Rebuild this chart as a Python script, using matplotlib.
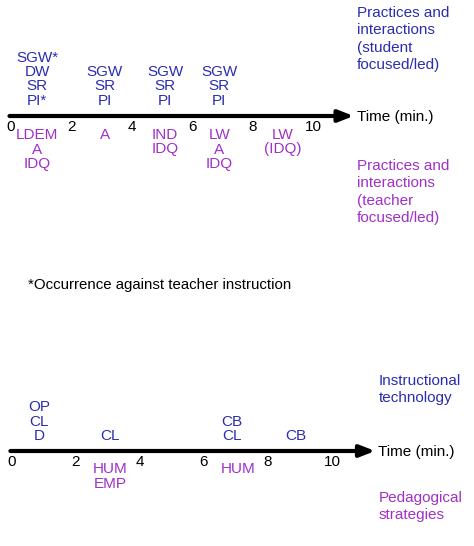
import matplotlib
matplotlib.use("Agg")
import matplotlib.pyplot as plt

plt.rcParams['font.family'] = ['Liberation Sans', 'DejaVu Sans']
BLUE = '#2a2db0'
PURP = '#a030c8'

ticks = [0, 2, 4, 6, 8, 10]
top_student_x = [0.87, 3.1, 5.1, 6.9]
top_student = [["SGW*", "DW", "SR", "PI*"], ["SGW", "SR", "PI"], ["SGW", "SR", "PI"], ["SGW", "SR", "PI"]]
top_teacher_x = [0.87, 3.1, 5.1, 6.9, 9.0]
top_teacher = [["LDEM", "A", "IDQ"], ["A"], ["IND", "IDQ"], ["LW", "A", "IDQ"], ["LW", "(IDQ)"]]
bot_tech_x = [0.85, 3.06, 6.87, 8.87]
bot_tech = [["OP", "CL", "D"], ["CL"], ["CB", "CL"], ["CB"]]
bot_ped_x = [3.06, 7.06]
bot_ped = [["HUM", "EMP"], ["HUM"]]

W, H = 474, 546
fig = plt.figure(figsize=(W/100, H/100), dpi=100)

def make_ax(x0px, ppm):
    ax = fig.add_axes([0, 0, 1, 1], facecolor='none')
    ax.set_xlim(-x0px/ppm, (W - x0px)/ppm)
    ax.set_ylim(H, 0)
    ax.axis('off')
    return ax

fs = 11
# top timeline
ax1 = make_ax(11, 30.2)
ax1.annotate('', xy=(11.35, 116), xytext=(-0.05, 116),
             arrowprops=dict(arrowstyle='-|>,head_length=0.9,head_width=0.35', lw=3, color='black', shrinkA=0, shrinkB=0))
for t in ticks:
    ax1.text(t, 127, str(t), ha='center', va='center', fontsize=fs)
ax1.text(11.45, 117, "Time (min.)", ha='left', va='center', fontsize=fs)
for x, lab in zip(top_student_x, top_student):
    n = len(lab)
    for i, s in enumerate(lab):
        ax1.text(x, 101 - 14.5*(n-1-i), s, ha='center', va='center', fontsize=fs, color=BLUE)
for x, lab in zip(top_teacher_x, top_teacher):
    for i, s in enumerate(lab):
        ax1.text(x, 135 + 14.5*i, s, ha='center', va='center', fontsize=fs, color=PURP)

# bottom timeline
ax2 = make_ax(12, 32)
ax2.annotate('', xy=(11.35, 451), xytext=(-0.05, 451),
             arrowprops=dict(arrowstyle='-|>,head_length=0.9,head_width=0.35', lw=3, color='black', shrinkA=0, shrinkB=0))
for t in ticks:
    ax2.text(t, 462, str(t), ha='center', va='center', fontsize=fs)
ax2.text(11.45, 452, "Time (min.)", ha='left', va='center', fontsize=fs)
for x, lab in zip(bot_tech_x, bot_tech):
    n = len(lab)
    for i, s in enumerate(lab):
        ax2.text(x, 436 - 14.5*(n-1-i), s, ha='center', va='center', fontsize=fs, color=BLUE)
for x, lab in zip(bot_ped_x, bot_ped):
    for i, s in enumerate(lab):
        ax2.text(x, 469 + 14.5*i, s, ha='center', va='center', fontsize=fs, color=PURP)

# side labels and footnote (figure pixel coords)
def ftext(xp, yp, s, color, ls=1.3, size=11):
    fig.text(xp/W, 1 - yp/H, s, color=color, fontsize=size, va='top', ha='left', linespacing=ls)

ftext(357, 6, "Practices and\ninteractions\n(student\nfocused/led)", BLUE)
ftext(357, 159, "Practices and\ninteractions\n(teacher\nfocused/led)", PURP)
ftext(28, 278, "*Occurrence against teacher instruction", 'black', size=10.8)
ftext(379, 374, "Instructional\ntechnology", BLUE)
ftext(379, 491, "Pedagogical\nstrategies", PURP)

fig.savefig("out.png", dpi=100)
